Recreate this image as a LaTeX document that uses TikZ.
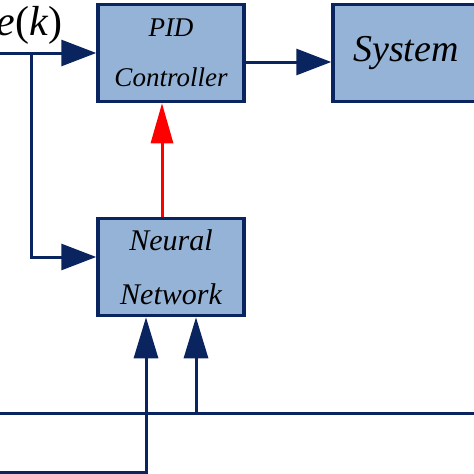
\documentclass[tikz,border=0pt]{standalone}
\usepackage{fontspec}
\setmainfont{Liberation Serif}
\usetikzlibrary{arrows.meta}
\definecolor{boxfill}{RGB}{149,179,215}
\definecolor{navyline}{RGB}{10,36,96}
\newcommand{\boxcolor}{boxfill}
\newcommand{\linecolor}{navyline}
\newcommand{\wirewidth}{3pt}
\tikzset{
  block/.style={draw=\linecolor, fill=\boxcolor, line width=3.5pt, minimum width=146pt, minimum height=97pt, inner sep=0pt, align=center},
  wire/.style={draw=\linecolor, line width=\wirewidth},
  flow/.style={wire, -{Triangle[length=35pt,width=26pt]}},
  upflow/.style={wire, -{Triangle[length=41pt,width=24pt]}},
  tune/.style={draw=red, line width=\wirewidth, -{Triangle[length=40pt,width=22pt]}},
}
\begin{document}
\begin{tikzpicture}[x=1pt,y=-1pt]
\useasboundingbox (0,0) rectangle (474,474);
\node[block, font=\itshape\fontsize{27}{50}\selectfont] (pid) at (171,53) {PID\\Controller};
\node[block, font=\itshape\fontsize{38}{40}\selectfont] (sys) at (406,53) {System};
\node[block, font=\itshape\fontsize{30}{54}\selectfont] (nn) at (171,267) {Neural\\Network};
\node[anchor=base east, font=\fontsize{42}{42}\selectfont, inner sep=0pt] (err) at (63,35) {\textit{e}(\textit{k})};
%input e(k)
\coordinate (in) at (0,53);
\coordinate (split) at (31,53);
\draw[flow] (in) -- (pid.west);
\draw[flow] (split) |- ([yshift=10pt]nn.west);
%controller to system
\draw[flow] ([yshift=-9pt]pid.east) -- ([yshift=-9pt]sys.west);
%tuning
\draw[tune] ([xshift=-9pt]nn.north) -- ([xshift=-9pt]pid.south);
%feedback lines
\coordinate (bus) at (0,413);
\coordinate (busend) at (474,413);
\coordinate (low) at (0,472);
\coordinate (tapl) at ([xshift=-25pt]nn.south);
\coordinate (tapr) at ([xshift=25pt]nn.south);
\draw[wire] (bus) -- (busend);
\draw[upflow] (tapr |- bus) -- (tapr);
\draw[upflow] (low) -| (tapl);
\end{tikzpicture}
\end{document}
